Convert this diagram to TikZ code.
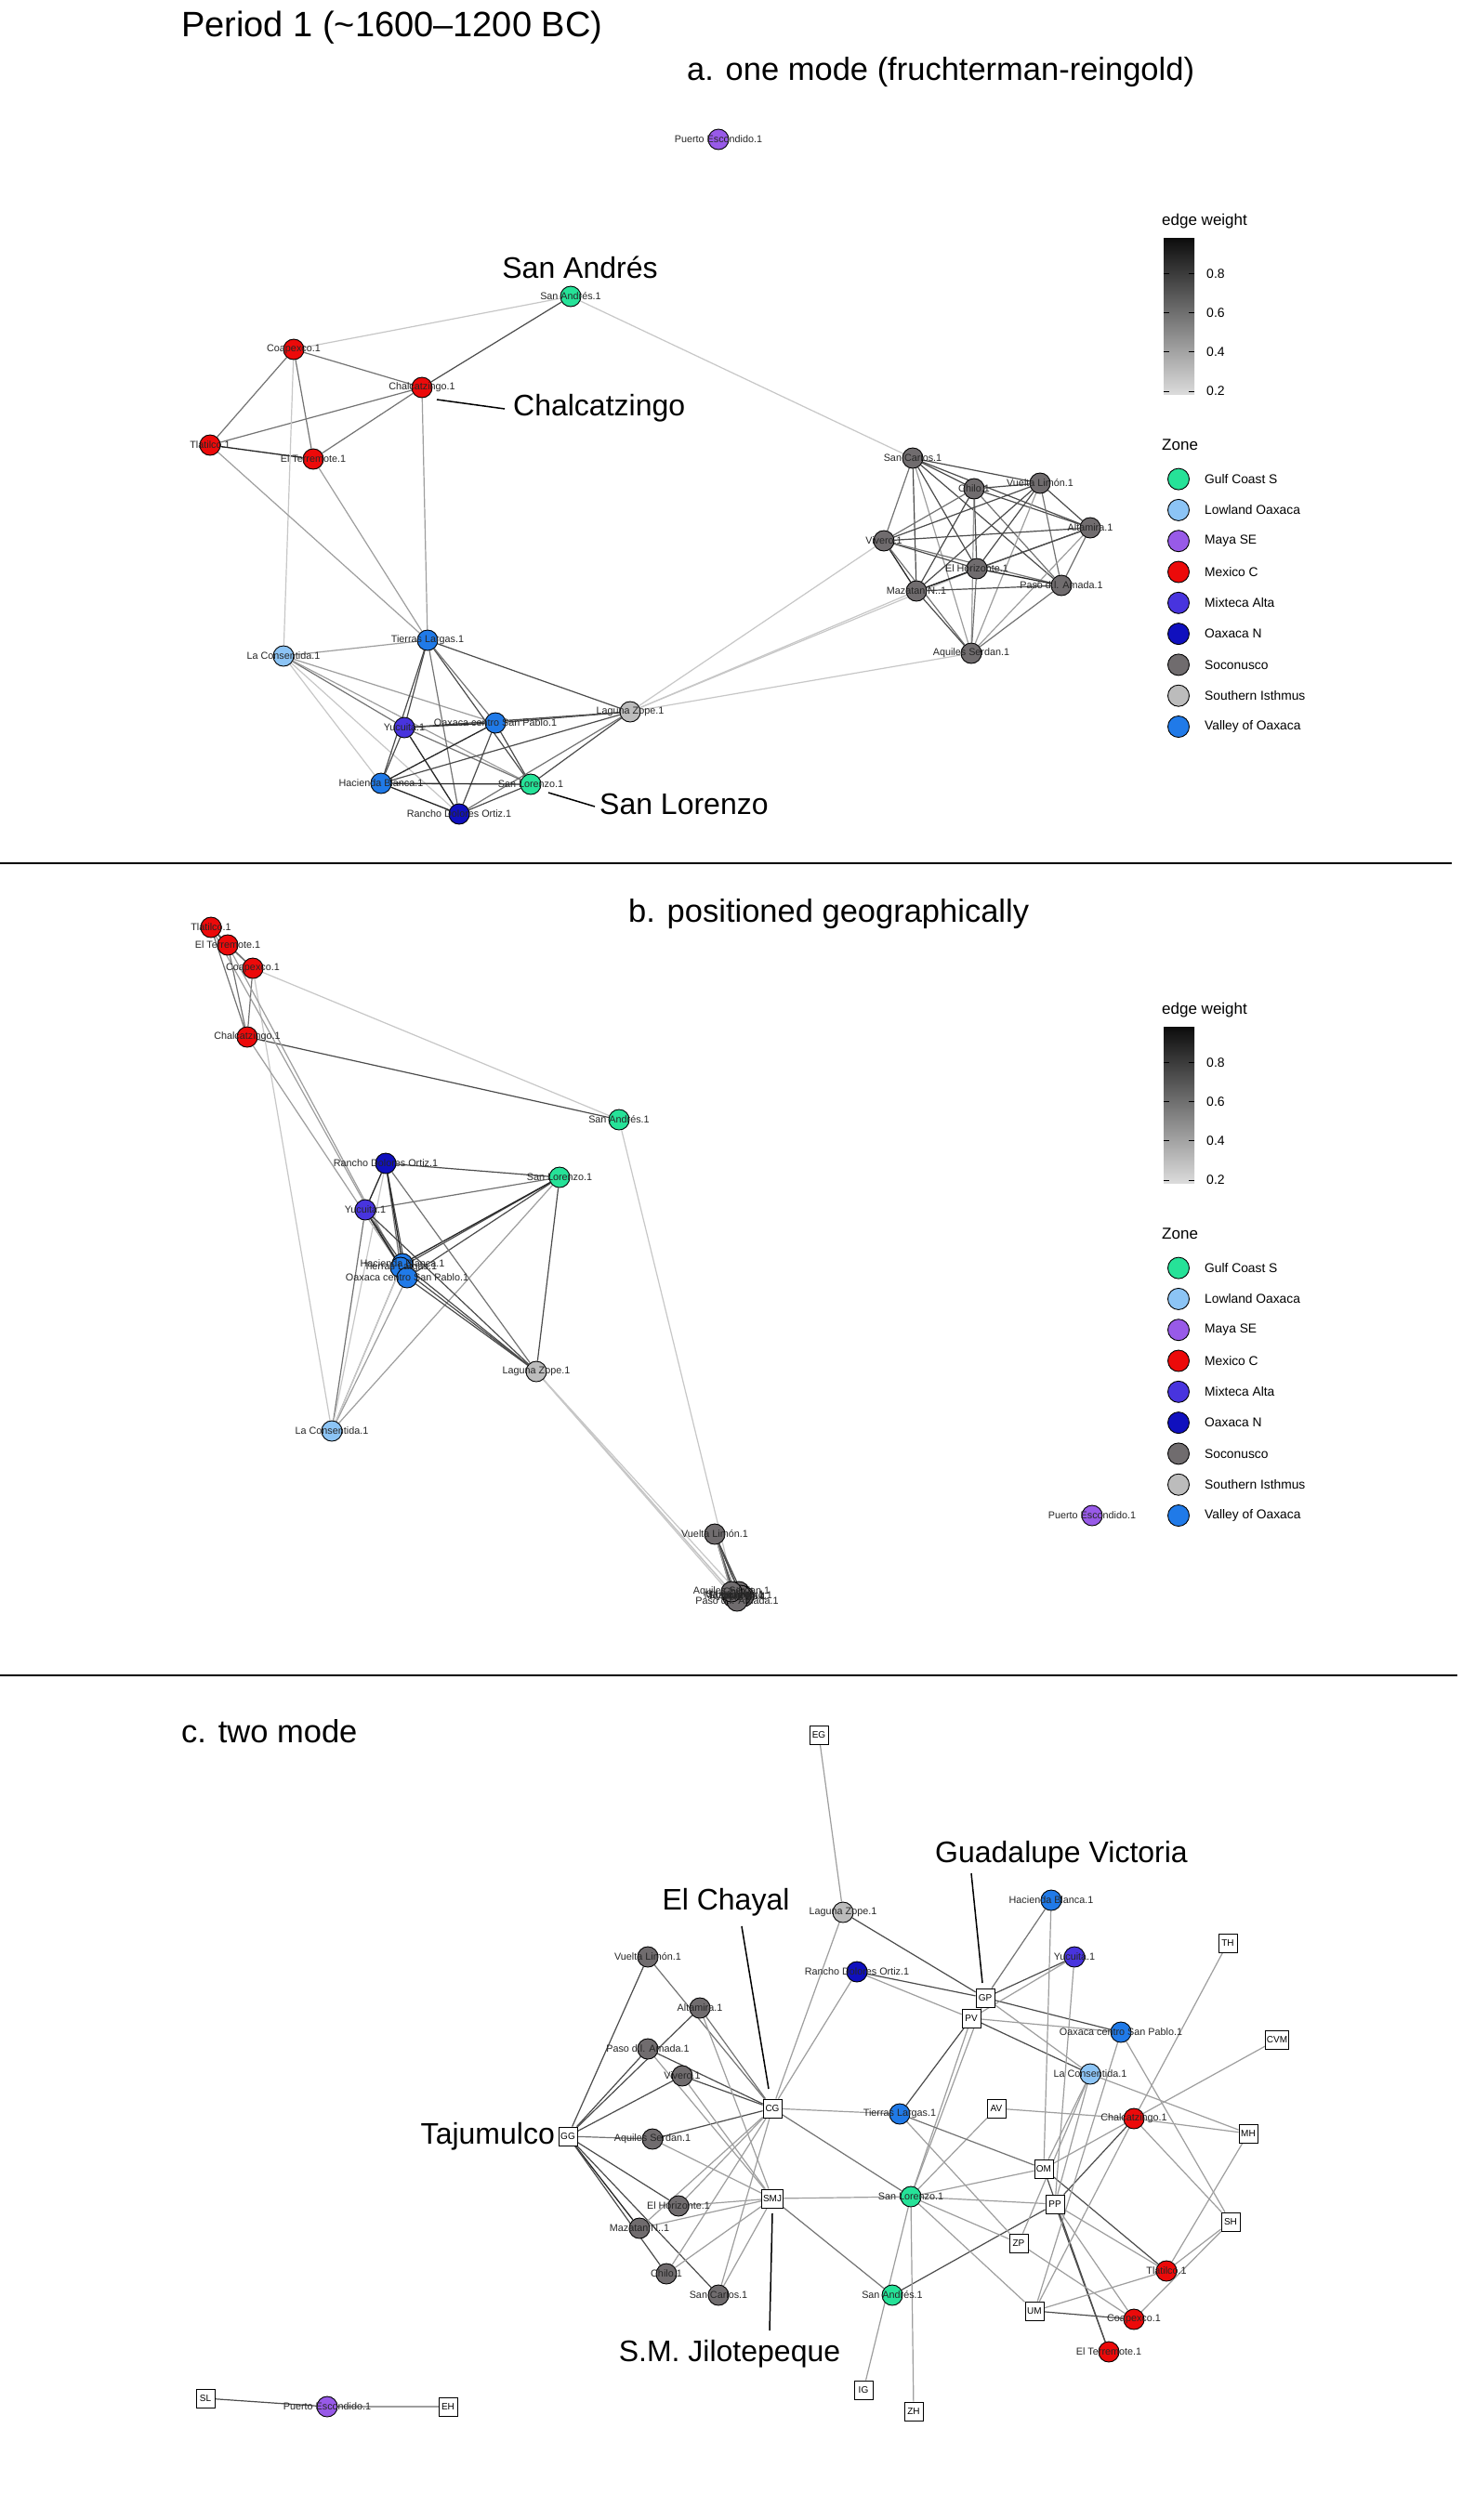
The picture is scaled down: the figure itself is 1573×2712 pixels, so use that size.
\documentclass[tikz,border=0pt]{standalone}
\usepackage{fontspec}
\setmainfont{Liberation Sans}
\pgfdeclarelayer{edgelayer}
\pgfdeclarelayer{toplayer}
\pgfsetlayers{edgelayer,main,toplayer}
\definecolor{cGulf}{RGB}{38,226,152}
\definecolor{cLow}{RGB}{140,196,245}
\definecolor{cMaya}{RGB}{152,90,232}
\definecolor{cMex}{RGB}{236,10,10}
\definecolor{cMix}{RGB}{72,52,222}
\definecolor{cOaxN}{RGB}{16,16,190}
\definecolor{cSoc}{RGB}{112,108,110}
\definecolor{cIsth}{RGB}{188,188,188}
\definecolor{cVal}{RGB}{32,122,232}
\tikzset{
  site/.style={circle,draw=black,line width=0.9pt,minimum size=22pt,inner sep=0pt},
  src/.style={rectangle,draw=black,line width=0.9pt,fill=white,minimum size=20pt,inner sep=1.5pt,font=\fontsize{10}{11}\selectfont},
  lab/.style={inner sep=0pt,font=\fontsize{10.8}{12}\selectfont,text=black!85},
  big/.style={inner sep=0pt,font=\fontsize{32}{36}\selectfont},
  leader/.style={line width=1.5pt,draw=black},
  head/.style={inner sep=0pt,font=\fontsize{34.5}{40}\selectfont,anchor=west},
  legtitle/.style={inner sep=0pt,font=\fontsize{17}{20}\selectfont,anchor=west},
  legtext/.style={inner sep=0pt,font=\fontsize{13.8}{16}\selectfont,anchor=west},
  legtick/.style={inner sep=0pt,font=\fontsize{14}{16}\selectfont,anchor=west},
  legdot/.style={circle,draw=black,line width=0.9pt,minimum size=23pt,inner sep=0pt},
  w1/.style={draw=black!22,line width=1.2pt},
  w2/.style={draw=black!38,line width=1.2pt},
  w3/.style={draw=black!55,line width=1.2pt},
  w4/.style={draw=black!70,line width=1.2pt},
  w5/.style={draw=black!85,line width=1.3pt},
  sepline/.style={line width=1.3pt,draw=black}
}
\newcommand\Site[5]{\node[site,fill=#4] (#1) at (#2,#3) {};%
  \begin{pgfonlayer}{toplayer}\node[lab] (#1-l) at (#1) {#5};\end{pgfonlayer}}
\newcommand\Src[4]{\node[src] (#1) at (#2,#3) {#4};}
\newcommand\Legend[2]{%
  \node[legtitle] (#1ewt) at (1250,{238+#2}) {edge weight};
  \node[inner sep=0pt,minimum width=33pt,minimum height=168pt,top color=black!95,bottom color=black!14,anchor=north west] (#1bar) at (1252,{256+#2}) {};
  \foreach \yy/\tv [count=\kk] in {294.4/0.8,336.7/0.6,378.5/0.4,421/0.2}{
    \draw[line width=1pt] (1252,{\yy+#2}) -- ++(6,0) (1279,{\yy+#2}) -- ++(6,0);
    \node[legtick] (#1tk\kk) at (1298,{\yy+#2}) {\tv};
  }
  \node[legtitle] (#1zone) at (1250,{478.5+#2}) {Zone};
  \foreach \cc/\nn [count=\kk from 0] in {cGulf/Gulf Coast S,cLow/Lowland Oaxaca,cMaya/Maya SE,cMex/Mexico C,cMix/Mixteca Alta,cOaxN/Oaxaca N,cSoc/Soconusco,cIsth/Southern Isthmus,cVal/Valley of Oaxaca}{
    \node[legdot,fill=\cc] (#1dot\kk) at (1268,{515.6+33.3*\kk+#2}) {};
    \node[legtext] (#1lt\kk) at (1296,{515.6+33.3*\kk+#2}) {\nn};
  }}
\newcommand\ABedges[1]{%
  \draw[w5] (#1Tla) -- (#1Ter);
  \draw[w3] (#1Tla) -- (#1Coa);
  \draw[w3] (#1Tla) -- (#1Cha);
  \draw[w3] (#1Coa) -- (#1Cha);
  \draw[w3] (#1Coa) -- (#1Ter);
  \draw[w3] (#1Cha) -- (#1Ter);
  \draw[w1] (#1Coa) -- (#1SA);
  \draw[w4] (#1Cha) -- (#1SA);
  \draw[w1] (#1Coa) -- (#1LaC);
  \draw[w2] (#1Tla) -- (#1TL);
  \draw[w2] (#1Ter) -- (#1TL);
  \draw[w2] (#1Cha) -- (#1TL);
  \draw[w1] (#1SA) -- (#1SC);
  \draw[w2] (#1LaC) -- (#1TL);
  \draw[w3] (#1LaC) -- (#1Yuc);
  \draw[w2] (#1LaC) -- (#1Oax);
  \draw[w1] (#1LaC) -- (#1Hac);
  \draw[w1] (#1LaC) -- (#1RDO);
  \draw[w2] (#1LaC) -- (#1SL);
  \draw[w4] (#1TL) -- (#1Yuc);
  \draw[w4] (#1TL) -- (#1Hac);
  \draw[w3] (#1TL) -- (#1RDO);
  \draw[w4] (#1TL) -- (#1SL);
  \draw[w3] (#1TL) -- (#1Oax);
  \draw[w4] (#1TL) -- (#1LZ);
  \draw[w5] (#1Yuc) -- (#1Oax);
  \draw[w4] (#1Yuc) -- (#1Hac);
  \draw[w5] (#1Yuc) -- (#1RDO);
  \draw[w3] (#1Yuc) -- (#1SL);
  \draw[w4] (#1Yuc) -- (#1LZ);
  \draw[w5] (#1Oax) -- (#1Hac);
  \draw[w4] (#1Oax) -- (#1RDO);
  \draw[w4] (#1Oax) -- (#1SL);
  \draw[w4] (#1Oax) -- (#1LZ);
  \draw[w5] (#1Hac) -- (#1SL);
  \draw[w5] (#1Hac) -- (#1RDO);
  \draw[w4] (#1Hac) -- (#1LZ);
  \draw[w4] (#1RDO) -- (#1SL);
  \draw[w3] (#1RDO) -- (#1LZ);
  \draw[w4] (#1SL) -- (#1LZ);
  \draw[w1] (#1LZ) -- (#1Viv);
  \draw[w1] (#1LZ) -- (#1Maz);
  \draw[w1] (#1LZ) -- (#1EH);
  \draw[w1] (#1LZ) -- (#1Aqu);
  \draw[w4] (#1SC) -- (#1Chi);  \draw[w4] (#1SC) -- (#1VL);   \draw[w4] (#1SC) -- (#1Alt);
  \draw[w3] (#1SC) -- (#1Viv);  \draw[w4] (#1SC) -- (#1EH);   \draw[w4] (#1SC) -- (#1Paso);
  \draw[w4] (#1SC) -- (#1Maz);  \draw[w2] (#1SC) -- (#1Aqu);
  \draw[w4] (#1Chi) -- (#1VL);  \draw[w4] (#1Chi) -- (#1Alt); \draw[w3] (#1Chi) -- (#1Viv);
  \draw[w4] (#1Chi) -- (#1EH);  \draw[w3] (#1Chi) -- (#1Paso);\draw[w4] (#1Chi) -- (#1Maz);
  \draw[w2] (#1Chi) -- (#1Aqu);
  \draw[w4] (#1VL) -- (#1Alt);  \draw[w4] (#1VL) -- (#1Viv);  \draw[w4] (#1VL) -- (#1EH);
  \draw[w3] (#1VL) -- (#1Paso); \draw[w4] (#1VL) -- (#1Maz);  \draw[w2] (#1VL) -- (#1Aqu);
  \draw[w4] (#1Alt) -- (#1Viv); \draw[w4] (#1Alt) -- (#1EH);  \draw[w3] (#1Alt) -- (#1Paso);
  \draw[w4] (#1Alt) -- (#1Maz); \draw[w2] (#1Alt) -- (#1Aqu);
  \draw[w4] (#1Viv) -- (#1EH);  \draw[w3] (#1Viv) -- (#1Paso);\draw[w5] (#1Viv) -- (#1Maz);
  \draw[w3] (#1Viv) -- (#1Aqu);
  \draw[w5] (#1EH) -- (#1Paso); \draw[w5] (#1EH) -- (#1Maz);  \draw[w3] (#1EH) -- (#1Aqu);
  \draw[w4] (#1Paso) -- (#1Maz);\draw[w3] (#1Paso) -- (#1Aqu);
  \draw[w4] (#1Maz) -- (#1Aqu);
}
\begin{document}
\begin{tikzpicture}[x=1pt,y=-1pt]
\begin{pgfonlayer}{edgelayer}
\fill[white] (0,0) rectangle (1573,2712);
\end{pgfonlayer}
\useasboundingbox (0,0) rectangle (1573,2712);

% ---------- headings ----------
\node[inner sep=0pt,anchor=west,font=\fontsize{38}{44}\selectfont] (title) at (195,30) {Period 1 (\textasciitilde1600–1200 BC)};
\node[head] (ha) at (739,78) {a. one mode (fruchterman-reingold)};
\node[head] (hb) at (676,984) {b. positioned geographically};
\node[head] (hc) at (195,1863) {c. two mode};
\coordinate (sep1a) at (0,929); \coordinate (sep1b) at (1562,929);
\coordinate (sep2a) at (0,1803); \coordinate (sep2b) at (1568,1803);
\draw[sepline] (sep1a) -- (sep1b);
\draw[sepline] (sep2a) -- (sep2b);

% ---------- panel a ----------
\Site{a-PE}{773}{150}{cMaya}{Puerto Escondido.1}
\Site{a-SA}{614}{319}{cGulf}{San Andrés.1}
\Site{a-Coa}{316}{376}{cMex}{Coapexco.1}
\Site{a-Cha}{454}{417}{cMex}{Chalcatzingo.1}
\Site{a-Tla}{226}{479}{cMex}{Tlatilco.1}
\Site{a-Ter}{337}{494}{cMex}{El Terremote.1}
\Site{a-TL}{460}{689}{cVal}{Tierras Largas.1}
\Site{a-LaC}{305}{706}{cLow}{La Consentida.1}
\Site{a-LZ}{678}{766}{cIsth}{Laguna Zope.1}
\Site{a-Oax}{533}{778}{cVal}{Oaxaca centro San Pablo.1}
\Site{a-Yuc}{435}{783}{cMix}{Yucuita.1}
\Site{a-Hac}{410}{843}{cVal}{Hacienda Blanca.1}
\Site{a-SL}{571}{844}{cGulf}{San Lorenzo.1}
\Site{a-RDO}{494}{876}{cOaxN}{Rancho Dolores Ortiz.1}
\Site{a-SC}{982}{493}{cSoc}{San Carlos.1}
\Site{a-Chi}{1048}{526}{cSoc}{Chilo.1}
\Site{a-VL}{1119}{520}{cSoc}{Vuelta Limón.1}
\Site{a-Alt}{1173}{568}{cSoc}{Altamira.1}
\Site{a-Viv}{951}{582}{cSoc}{Vivero.1}
\Site{a-EH}{1051}{612}{cSoc}{El Horizonte.1}
\Site{a-Paso}{1142}{630}{cSoc}{Paso d.l. Amada.1}
\Site{a-Maz}{986}{636}{cSoc}{Mazatan N..1}
\Site{a-Aqu}{1045}{703}{cSoc}{Aquiles Serdan.1}
\begin{pgfonlayer}{edgelayer}\ABedges{a-}\end{pgfonlayer}
\node[big] (a-SAbig) at (624,288) {San Andrés};
\node[big,anchor=west] (a-Chabig) at (552,439) {Chalcatzingo};
\node[big,anchor=west] (a-SLbig) at (645,865) {San Lorenzo};
\coordinate (a-cl1) at (470,430); \coordinate (a-cl2) at (543,440);
\coordinate (a-sl1) at (590,853); \coordinate (a-sl2) at (640,868);
\draw[leader] (a-cl1) -- (a-cl2);
\draw[leader] (a-sl1) -- (a-sl2);
\Legend{a-}{0}

% ---------- panel b ----------
\Site{b-PE}{1175}{1631}{cMaya}{Puerto Escondido.1}
\Site{b-Tla}{227}{998}{cMex}{Tlatilco.1}
\Site{b-Ter}{245}{1017}{cMex}{El Terremote.1}
\Site{b-Coa}{272}{1042}{cMex}{Coapexco.1}
\Site{b-Cha}{266}{1116}{cMex}{Chalcatzingo.1}
\Site{b-SA}{666}{1205}{cGulf}{San Andrés.1}
\Site{b-RDO}{415}{1252}{cOaxN}{Rancho Dolores Ortiz.1}
\Site{b-SL}{602}{1267}{cGulf}{San Lorenzo.1}
\Site{b-Yuc}{393}{1302}{cMix}{Yucuita.1}
\Site{b-Hac}{433}{1360}{cVal}{Hacienda Blanca.1}
\Site{b-TL}{431}{1364}{cVal}{Tierras Largas.1}
\Site{b-Oax}{438}{1375}{cVal}{Oaxaca centro San Pablo.1}
\Site{b-LZ}{577}{1476}{cIsth}{Laguna Zope.1}
\Site{b-LaC}{357}{1540}{cLow}{La Consentida.1}
\Site{b-VL}{769}{1651}{cSoc}{Vuelta Limón.1}
\Site{b-Maz}{790}{1717}{cSoc}{Mazatan N..1}
\Site{b-SC}{791}{1716}{cSoc}{San Carlos.1}
\Site{b-Chi}{795}{1713}{cSoc}{Chilo.1}
\Site{b-Alt}{800}{1718}{cSoc}{Altamira.1}
\Site{b-Viv}{789}{1719}{cSoc}{Vivero.1}
\Site{b-EH}{797}{1717}{cSoc}{El Horizonte.1}
\Site{b-Paso}{793}{1723}{cSoc}{Paso d.l. Amada.1}
\Site{b-Aqu}{787}{1713}{cSoc}{Aquiles Serdan.1}
\begin{pgfonlayer}{edgelayer}\ABedges{b-}\end{pgfonlayer}
\Legend{b-}{849}

% ---------- panel c ----------
\Src{c-sEG}{881}{1867}{EG}
\Src{c-sGP}{1060}{2150}{GP}
\Src{c-sPV}{1045}{2172}{PV}
\Src{c-sCG}{831}{2269}{CG}
\Src{c-sGG}{611}{2299}{GG}
\Src{c-sSMJ}{831}{2366}{SMJ}
\Src{c-sAV}{1072}{2269}{AV}
\Src{c-sOM}{1123}{2334}{OM}
\Src{c-sPP}{1135}{2372}{PP}
\Src{c-sZP}{1096}{2414}{ZP}
\Src{c-sUM}{1113}{2487}{UM}
\Src{c-sTH}{1321}{2091}{TH}
\Src{c-sCVM}{1374}{2195}{CVM}
\Src{c-sMH}{1343}{2296}{MH}
\Src{c-sSH}{1324}{2391}{SH}
\Src{c-sIG}{929}{2572}{IG}
\Src{c-sZH}{983}{2595}{ZH}
\Src{c-sSL}{221}{2581}{SL}
\Src{c-sEH}{482}{2590}{EH}
\Site{c-LZ}{907}{2058}{cIsth}{Laguna Zope.1}
\Site{c-RDO}{922}{2122}{cOaxN}{Rancho Dolores Ortiz.1}
\Site{c-Hac}{1131}{2045}{cVal}{Hacienda Blanca.1}
\Site{c-Yuc}{1156}{2106}{cMix}{Yucuita.1}
\Site{c-Oax}{1206}{2187}{cVal}{Oaxaca centro San Pablo.1}
\Site{c-LaC}{1173}{2232}{cLow}{La Consentida.1}
\Site{c-TL}{968}{2275}{cVal}{Tierras Largas.1}
\Site{c-Cha}{1220}{2280}{cMex}{Chalcatzingo.1}
\Site{c-SL}{980}{2364}{cGulf}{San Lorenzo.1}
\Site{c-Tla}{1255}{2444}{cMex}{Tlatilco.1}
\Site{c-Coa}{1220}{2496}{cMex}{Coapexco.1}
\Site{c-Ter}{1193}{2531}{cMex}{El Terremote.1}
\Site{c-SA}{960}{2470}{cGulf}{San Andrés.1}
\Site{c-VL}{697}{2106}{cSoc}{Vuelta Limón.1}
\Site{c-Alt}{753}{2161}{cSoc}{Altamira.1}
\Site{c-Paso}{697}{2205}{cSoc}{Paso d.l. Amada.1}
\Site{c-Viv}{734}{2234}{cSoc}{Vivero.1}
\Site{c-Aqu}{702}{2302}{cSoc}{Aquiles Serdan.1}
\Site{c-EH}{730}{2374}{cSoc}{El Horizonte.1}
\Site{c-Maz}{688}{2398}{cSoc}{Mazatan N..1}
\Site{c-Chi}{717}{2447}{cSoc}{Chilo.1}
\Site{c-SC}{773}{2470}{cSoc}{San Carlos.1}
\Site{c-PE}{352}{2590}{cMaya}{Puerto Escondido.1}
\begin{pgfonlayer}{edgelayer}
\foreach \s/\w in {VL/w4,Alt/w4,Paso/w4,Viv/w4,Aqu/w3,EH/w4,Maz/w5,Chi/w4,SC/w4}{\draw[\w] (c-sGG) -- (c-\s);}
\foreach \s/\w in {VL/w3,Alt/w3,Paso/w4,Viv/w4,Aqu/w4,EH/w2,Maz/w2,Chi/w2,SC/w2,LZ/w2,RDO/w2,TL/w2,SL/w3}{\draw[\w] (c-sCG) -- (c-\s);}
\foreach \s/\w in {Alt/w2,Paso/w2,Viv/w2,Aqu/w2,EH/w2,Maz/w2,Chi/w2,SC/w2,SL/w2,SA/w3}{\draw[\w] (c-sSMJ) -- (c-\s);}
\draw[w2] (c-sEG) -- (c-LZ);
\foreach \s/\w in {LZ/w4,RDO/w4,Hac/w3,Yuc/w4,Oax/w4,LaC/w2,SL/w2}{\draw[\w] (c-sGP) -- (c-\s);}
\foreach \s/\w in {RDO/w2,Yuc/w2,Oax/w2,LaC/w4,TL/w4,SL/w2}{\draw[\w] (c-sPV) -- (c-\s);}
\foreach \s/\w in {SL/w2,Cha/w2}{\draw[\w] (c-sAV) -- (c-\s);}
\foreach \s/\w in {TL/w3,SL/w2,Hac/w2,Cha/w2,LaC/w2,Tla/w4,Ter/w4}{\draw[\w] (c-sOM) -- (c-\s);}
\foreach \s/\w in {SL/w2,Yuc/w2,LaC/w2,Cha/w4,SA/w4,Ter/w4,Coa/w2,Tla/w2}{\draw[\w] (c-sPP) -- (c-\s);}
\foreach \s/\w in {TL/w2,LaC/w2,Coa/w2,SL/w2}{\draw[\w] (c-sZP) -- (c-\s);}
\foreach \s/\w in {Oax/w2,Coa/w4,Tla/w2,SL/w2,Cha/w2}{\draw[\w] (c-sUM) -- (c-\s);}
\draw[w2] (c-sTH) -- (c-Cha);
\draw[w2] (c-sCVM) -- (c-Cha);
\foreach \s/\w in {Cha/w2,LaC/w2,Tla/w2}{\draw[\w] (c-sMH) -- (c-\s);}
\foreach \s/\w in {Oax/w2,Cha/w2,Tla/w2,Coa/w2}{\draw[\w] (c-sSH) -- (c-\s);}
\draw[w2] (c-sIG) -- (c-SL);
\draw[w2] (c-sZH) -- (c-SL);
\draw[w4] (c-sSL) -- (c-PE);
\draw[w2] (c-sEH) -- (c-PE);
\end{pgfonlayer}
\node[big] (c-Chayal) at (781,2047) {El Chayal};
\node[big] (c-GV) at (1142,1996) {Guadalupe Victoria};
\node[big,anchor=east] (c-Taj) at (597,2299) {Tajumulco};
\node[big] (c-SMJt) at (785,2533) {S.M. Jilotepeque};
\coordinate (c-ch1) at (798,2073); \coordinate (c-ch2) at (827,2248);
\coordinate (c-gv1) at (1045,2016); \coordinate (c-gv2) at (1057,2134);
\coordinate (c-sm1) at (831,2382); \coordinate (c-sm2) at (828,2508);
\draw[leader] (c-ch1) -- (c-ch2);
\draw[leader] (c-gv1) -- (c-gv2);
\draw[leader] (c-sm1) -- (c-sm2);
\end{tikzpicture}
\end{document}
